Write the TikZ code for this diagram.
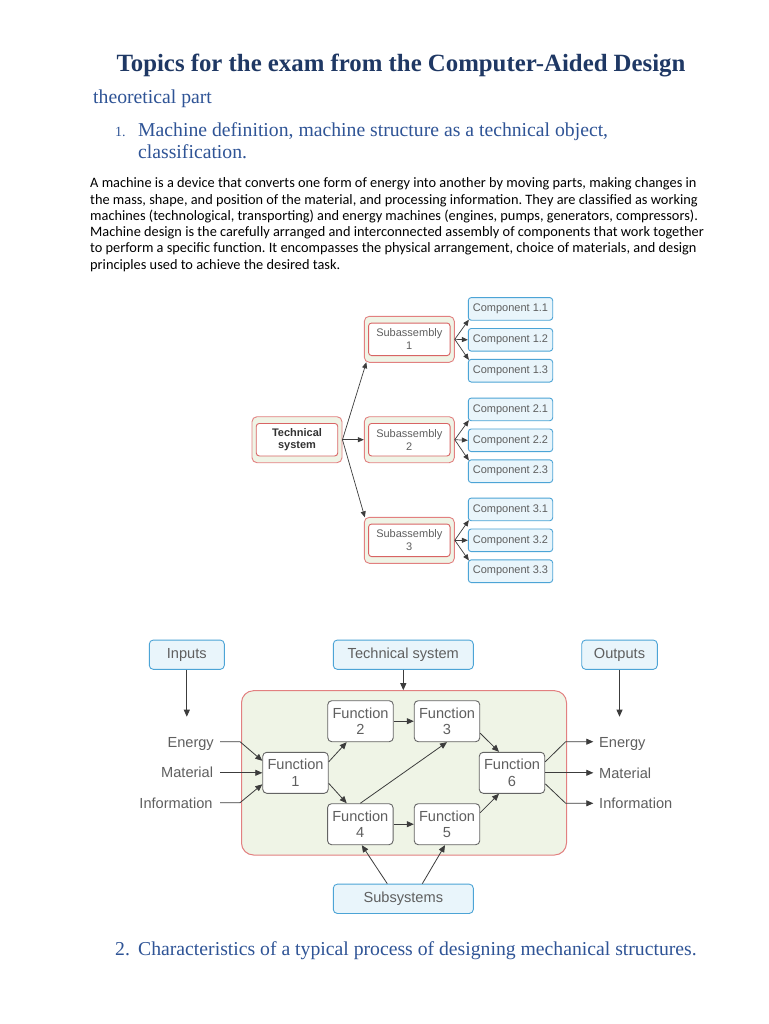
\documentclass[tikz,border=0pt]{standalone}
\usepackage{fontspec}
\setmainfont{Liberation Serif}
\newfontfamily\carlito{Carlito}
\newfontfamily\helv{Liberation Sans}
\usetikzlibrary{arrows.meta,calc}
\frenchspacing
\definecolor{titleblue}{RGB}{31,56,100}
\definecolor{headblue}{RGB}{47,84,150}
\definecolor{boxblue}{RGB}{76,164,214}
\definecolor{fillblue}{RGB}{233,245,251}
\definecolor{boxred}{RGB}{226,128,128}
\definecolor{innerred}{RGB}{216,100,100}
\definecolor{fillgreen}{RGB}{239,244,230}
\definecolor{txtgray}{RGB}{95,95,95}
\definecolor{linegray}{RGB}{60,60,60}
\definecolor{funcgray}{RGB}{100,100,100}
\tikzset{
  comp/.style={draw=boxblue, fill=fillblue, rounded corners=3pt, line width=0.9pt,
    minimum width=84.4pt, minimum height=22.7pt, inner sep=0pt,
    font=\helv\fontsize{11}{13}\selectfont, text=txtgray},
  subouter/.style={draw=boxred, fill=fillgreen, rounded corners=5pt, line width=0.9pt,
    minimum width=90pt, minimum height=46pt, inner sep=0pt},
  subinner/.style={draw=innerred, fill=white, rounded corners=3pt, line width=0.9pt,
    minimum width=81.5pt, minimum height=32.5pt, inner sep=0pt, align=center,
    font=\helv\fontsize{11}{12.7}\selectfont, text=txtgray},
  tarr/.style={draw=linegray, line width=0.7pt, -{Triangle[length=6pt,width=5pt]}},
  bluebox/.style={draw=boxblue, fill=fillblue, rounded corners=4pt, line width=0.9pt,
    minimum height=29.3pt, inner sep=0pt, font=\helv\fontsize{14.6}{17}\selectfont, text=txtgray},
  func/.style={draw=funcgray, fill=white, rounded corners=4pt, line width=0.9pt,
    minimum width=65.5pt, minimum height=41pt, inner sep=0pt, align=center,
    font=\helv\fontsize{14.6}{16.7}\selectfont, text=txtgray},
  lbl/.style={font=\helv\fontsize{14.6}{17}\selectfont, text=txtgray, inner sep=0pt},
  farr/.style={draw=linegray, line width=0.8pt, -{Triangle[length=7pt,width=6pt]}},
  para/.style={font=\carlito\fontsize{14.35}{16.2}\selectfont, text=black, inner sep=0pt, anchor=base west},
  head/.style={font=\fontsize{19.7}{23}\selectfont, text=headblue, inner sep=0pt, anchor=base west}
}
\begin{document}
\begin{tikzpicture}[x=1pt,y=-1pt]
\useasboundingbox (0,0) rectangle (768,1024);
\fill[white] (0,0) rectangle (768,1024);

% headings
\node[font=\bfseries\fontsize{24.8}{28}\selectfont, text=titleblue, inner sep=0pt, anchor=base] (title) at (401,71.7) {Topics for the exam from the Computer-Aided Design};
\node[head] (theo) at (93,104) {theoretical part};
\node[head, font=\fontsize{14}{16}\selectfont] (n1) at (115,136.7) {1.};
\node[head] (h1a) at (138,136.7) {Machine definition, machine structure as a technical object,};
\node[head] (h1b) at (138,158.3) {classification.};

% paragraph
\node[para] (p1) at (90,188) {A machine is a device that converts one form of energy into another by moving parts, making changes in};
\node[para] (p2) at (90,204.2) {the mass, shape, and position of the material, and processing information. They are classified as working};
\node[para] (p3) at (90,220.4) {machines (technological, transporting) and energy machines (engines, pumps, generators, compressors).};
\node[para] (p4) at (90,236.6) {Machine design is the carefully arranged and interconnected assembly of components that work together};
\node[para] (p5) at (90,252.8) {to perform a specific function. It encompasses the physical arrangement, choice of materials, and design};
\node[para] (p6) at (90,269) {principles used to achieve the desired task.};

% tree diagram
\node[subouter] (techo) at (297,439.7) {};
\node[subinner, font=\helv\bfseries\fontsize{11}{12.7}\selectfont, text={rgb,255:red,50;green,50;blue,50}] (tech) at (297,439.7) {Technical\\system};
\foreach \i/\y in {1/339.3,2/439.7,3/540.3}{
  \node[subouter] (sub\i o) at (409.3,\y) {};
  \node[subinner] (sub\i) at (409.3,\y) {Subassembly\\\i};
}
\foreach \i/\y in {1/339.8,2/440.3,3/540.3}{
  \node[comp] (c\i1) at (510.5,\y-30.9) {Component \i.1};
  \node[comp] (c\i2) at (510.5,\y) {Component \i.2};
  \node[comp] (c\i3) at (510.5,\y+30.9) {Component \i.3};
  \draw[tarr] (sub\i o.east) -- ([xshift=1pt,yshift=1pt]c\i1.south west);
  \draw[tarr] (sub\i o.east) -- (c\i2.west);
  \draw[tarr] (sub\i o.east) -- ([xshift=1pt,yshift=-1pt]c\i3.north west);
}
\draw[tarr] (techo.east) -- ([xshift=2.5pt,yshift=0.5pt]sub1o.south west);
\draw[tarr] (techo.east) -- (sub2o.west);
\draw[tarr] (techo.east) -- ([xshift=1pt,yshift=-0.5pt]sub3o.north west);

% function diagram
\node[bluebox, minimum width=75pt] (inputs) at (186.8,654.7) {Inputs};
\node[bluebox, minimum width=140pt] (techsys) at (403.3,654.7) {Technical system};
\node[bluebox, minimum width=75.6pt] (outputs) at (619.5,654.7) {Outputs};
\node[draw=boxred, fill=fillgreen, rounded corners=12pt, line width=1pt,
  minimum width=325pt, minimum height=164.3pt, inner sep=0pt] (mainbox) at (404,772.85) {};
\node[bluebox, minimum width=140pt] (subs) at (403.3,898.8) {Subsystems};

\coordinate (inend) at (186.8,716.7);
\coordinate (outend) at (619.5,716.7);
\draw[farr] (inputs.south) -- (inend);
\draw[farr] (outputs.south) -- (outend);
\draw[farr] (techsys.south) -- (techsys.south |- mainbox.north);

\node[func] (f1) at (295.5,772.8) {Function\\1};
\node[func] (f2) at (360.5,721.2) {Function\\2};
\node[func] (f3) at (447,721.2) {Function\\3};
\node[func] (f4) at (360.3,824.2) {Function\\4};
\node[func] (f5) at (447,824.2) {Function\\5};
\node[func] (f6) at (512,772.8) {Function\\6};

\node[lbl, anchor=base east] (lenergy) at (214,747) {Energy};
\node[lbl, anchor=base east] (lmaterial) at (213.3,777.8) {Material};
\node[lbl, anchor=base east] (linfo) at (212.7,808) {Information};
\node[lbl, anchor=base west] (renergy) at (599,747) {Energy};
\node[lbl, anchor=base west] (rmaterial) at (599,778) {Material};
\node[lbl, anchor=base west] (rinfo) at (599,808.5) {Information};

\coordinate (ein) at (220,741.7);
\coordinate (min) at (220,772.8);
\coordinate (iin) at (220,802.7);
\draw[farr] (ein) -- ++(20,0) -- ([yshift=12pt]f1.west);
\draw[farr] (min) -- (f1.west);
\draw[farr] (iin) -- ++(20,0) -- ([yshift=-11.5pt]f1.west);

\coordinate (eout) at (593.3,741.7);
\coordinate (mout) at (593.3,772.8);
\coordinate (iout) at (593.3,803.3);
\draw[farr] ([yshift=11pt]f6.east) -- ([xshift=-27.6pt]eout) -- (eout);
\draw[farr] (f6.east) -- (mout);
\draw[farr] ([yshift=-11pt]f6.east) -- ([xshift=-27.6pt]iout) -- (iout);

\draw[farr] ([yshift=11pt]f1.east) -- ([xshift=-13.8pt]f2.south);
\draw[farr] ([yshift=-10.5pt]f1.east) -- ([xshift=-13.6pt]f4.north);
\draw[farr] (f2.east) -- (f3.west);
\draw[farr] (f4.north) -- (f3.south);
\draw[farr] (f4.east) -- (f5.west);
\draw[farr] ([yshift=-12pt]f3.east) -- ([xshift=-13pt]f6.north);
\draw[farr] ([yshift=11.5pt]f5.east) -- ([xshift=-13pt]f6.south);
\draw[farr] ([xshift=-16pt]subs.north) -- ([xshift=1.5pt]f4.south);
\draw[farr] ([xshift=19pt]subs.north) -- ([xshift=-2pt]f5.south);

% heading 2
\node[head] (n2) at (115,955) {2.};
\node[head] (h2) at (138,955) {Characteristics of a typical process of designing mechanical structures.};
\end{tikzpicture}
\end{document}
